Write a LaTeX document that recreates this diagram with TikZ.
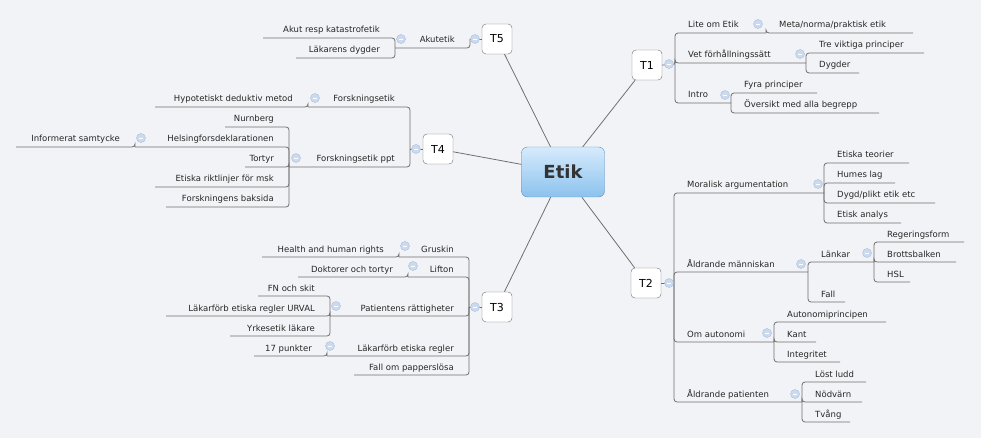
\documentclass[tikz,border=0pt]{standalone}
\usepackage{fontspec}
\setmainfont{DejaVu Sans}
\newcounter{nd}
\definecolor{bg}{HTML}{F2F3F6}
\definecolor{ln}{HTML}{707070}
\definecolor{cf}{HTML}{CCDAEE}
\definecolor{cd}{HTML}{A8BEDF}
\definecolor{etop}{HTML}{D6EBFC}
\definecolor{ebot}{HTML}{8CC2EE}
\definecolor{eb}{HTML}{5E8DBA}
\tikzset{
  lnk/.style={draw=ln, line width=0.8pt, rounded corners=3pt},
  txt/.style={inner sep=0pt, font=\fontsize{8.5}{10}\selectfont, text=black!85},
  topic/.style={draw=ln, fill=white, rounded corners=4pt, minimum width=30pt, minimum height=30pt, inner sep=0pt, font=\fontsize{11}{13}\selectfont},
  cbx/.style={circle, fill=cf, draw=cd, line width=0.4pt, minimum size=9pt, inner sep=0pt,
    path picture={\draw[white, line width=0.8pt] ([xshift=-2pt]path picture bounding box.center) -- ([xshift=2pt]path picture bounding box.center);}},
}
\newcommand\rc[5]{\draw[lnk] (#1,#2) |- (#3,#4);\stepcounter{nd}\node[txt,anchor=base west] (n\arabic{nd}) at (#1+13,#4-5) {#5};}
\newcommand\lc[5]{\draw[lnk] (#1,#2) |- (#3,#4);\stepcounter{nd}\node[txt,anchor=base east] (n\arabic{nd}) at (#1-15,#4-5) {#5};}
\newcommand\cb[2]{\stepcounter{nd}\node[cbx] (c\arabic{nd}) at (#1,#2) {};}
\begin{document}
\begin{tikzpicture}[x=1pt,y=-1pt]
\fill[bg] (0,0) rectangle (981,438);
\useasboundingbox (0,0) rectangle (981,438);
% central and topics
\node[draw=eb, rounded corners=6pt, top color=etop, bottom color=ebot, minimum width=83pt, minimum height=50pt, font=\bfseries\fontsize{18}{20}\selectfont, text=black!80] (etik) at (563,172) {Etik};
\node[topic] (t1) at (647,65) {T1};
\node[topic] (t2) at (646,283) {T2};
\node[topic] (t3) at (497,307) {T3};
\node[topic] (t4) at (438,149) {T4};
\node[topic] (t5) at (497,39) {T5};
\foreach \t in {t1,t2,t3,t4,t5} \draw[ln, line width=0.8pt] (etik) -- (\t);
% T1
\draw[lnk] (t1.east) -- (675,65) -- (675,63);
\rc{675}{63}{766}{33}{Lite om Etik}
\rc{766}{33}{913}{33}{Meta/norma/praktisk etik}
\rc{675}{63}{806}{63}{Vet förhållningssätt}
\rc{806}{63}{924}{53}{Tre viktiga principer}
\rc{806}{63}{859}{73}{Dygder}
\rc{675}{63}{731}{103}{Intro}
\rc{731}{103}{817}{93}{Fyra principer}
\rc{731}{103}{879}{113}{Översikt med alla begrepp}
\cb{669}{64}\cb{758}{24}\cb{800}{54}\cb{725}{95}
% T2
\draw[lnk] (t2.east) -- (674,283);
\rc{674}{283}{824}{193}{Moralisk argumentation}
\rc{824}{193}{909}{163}{Etiska teorier}
\rc{824}{193}{895}{183}{Humes lag}
\rc{824}{193}{935}{203}{Dygd/plikt etik etc}
\rc{824}{193}{901}{223}{Etisk analys}
\rc{674}{283}{808}{272}{Åldrande människan}
\rc{808}{272}{874}{262}{Länkar}
\rc{874}{262}{964}{242}{Regeringsform}
\rc{874}{262}{956}{262}{Brottsbalken}
\rc{874}{262}{910}{282}{HSL}
\rc{808}{272}{845}{302}{Fall}
\rc{674}{283}{774}{342}{Om autonomi}
\rc{774}{342}{886}{322}{Autonomiprincipen}
\rc{774}{342}{816}{342}{Kant}
\rc{774}{342}{840}{362}{Integritet}
\rc{674}{283}{802}{402}{Åldrande patienten}
\rc{802}{402}{866}{382}{Löst ludd}
\rc{802}{402}{862}{402}{Nödvärn}
\rc{802}{402}{850}{422}{Tvång}
\cb{669}{283}\cb{818}{184}\cb{801}{264}\cb{867}{253}\cb{767}{333}\cb{795}{394}
% T5
\draw[lnk] (t5.west) -- (470,39);
\lc{470}{39}{395}{48}{Akutetik}
\lc{395}{48}{263}{38}{Akut resp katastrofetik}
\lc{395}{48}{296}{58}{Läkarens dygder}
\cb{475}{39}\cb{401}{39}
% T4
\draw[lnk] (t4.west) -- (410,149);
\lc{410}{149}{308}{107}{Forskningsetik}
\lc{308}{107}{155}{107}{Hypotetiskt deduktiv metod}
\lc{410}{149}{289}{167}{Forskningsetik ppt}
\lc{289}{167}{225}{127}{Nurnberg}
\lc{289}{167}{135}{147}{Helsingforsdeklarationen}
\lc{135}{147}{16}{147}{Informerat samtycke}
\lc{289}{167}{245}{167}{Tortyr}
\lc{289}{167}{155}{187}{Etiska riktlinjer för msk}
\lc{289}{167}{166}{207}{Forskningens baksida}
\cb{416}{149}\cb{315}{98}\cb{296}{158}\cb{141}{138}
% T3
\draw[lnk] (t3.west) -- (469,307);
\lc{469}{307}{399}{257}{Gruskin}
\lc{399}{257}{262}{257}{Health and human rights}
\lc{469}{307}{408}{277}{Lifton}
\lc{408}{277}{298}{277}{Doktorer och tortyr}
\lc{469}{307}{330}{316}{Patientens rättigheter}
\lc{330}{316}{258}{296}{FN och skit}
\lc{330}{316}{166}{316}{Läkarförb etiska regler URVAL}
\lc{330}{316}{230}{336}{Yrkesetik läkare}
\lc{469}{307}{327}{356}{Läkarförb etiska regler}
\lc{327}{356}{254}{356}{17 punkter}
\lc{469}{307}{354}{375}{Fall om papperslösa}
\cb{475}{307}\cb{405}{246}\cb{413}{266}\cb{336}{306}\cb{330}{346}
\end{tikzpicture}
\end{document}
